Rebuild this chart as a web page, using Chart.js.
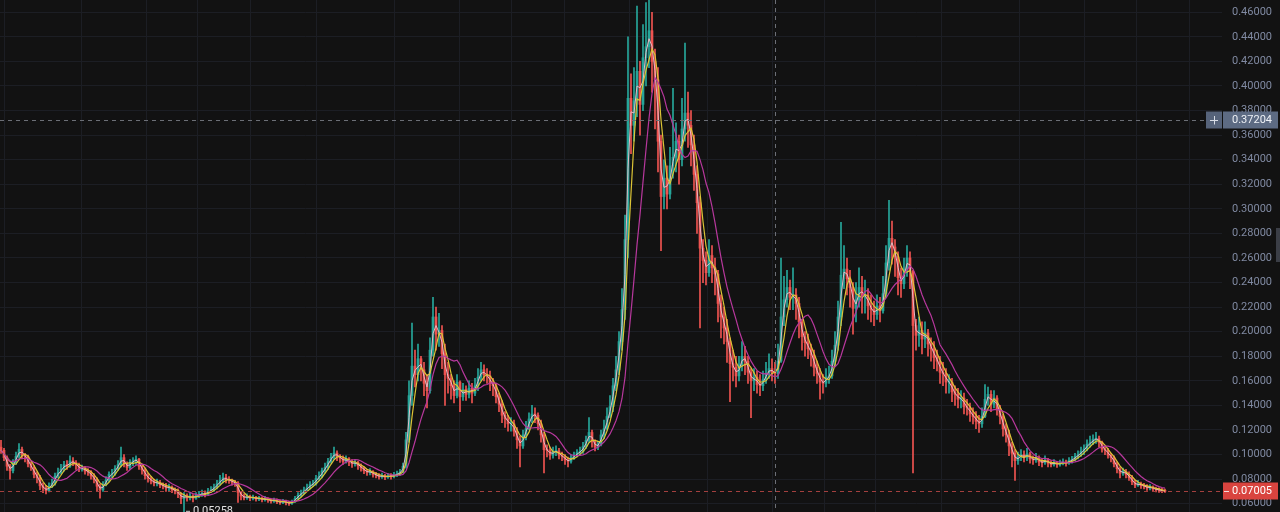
<!DOCTYPE html>
<html>
<head>
<meta charset="utf-8">
<script src="https://cdn.jsdelivr.net/npm/chart.js@4.4.1/dist/chart.umd.min.js"></script>
<style>
  html, body { margin: 0; padding: 0; background: #121212; overflow: hidden; }
  #wrap { width: 1280px; height: 512px; position: relative; }
</style>
</head>
<body>
<div id="wrap"><canvas id="priceChart"></canvas></div>
<script>
// candle data, one entry per bar (oldest first)
const firstOpen = 0.1060;
const closes = [
  0.1035,0.0975,0.0905,0.0868,0.0935,0.0985,0.1042,0.0998,0.0985,0.0925,
  0.0895,0.0838,0.0812,0.0745,0.0728,0.0705,0.0742,0.0768,0.0825,0.0852,
  0.0882,0.0918,0.0905,0.0948,0.0935,0.0915,0.0880,0.0892,0.0865,0.0858,
  0.0825,0.0798,0.0742,0.0712,0.0755,0.0792,0.0838,0.0842,0.0885,0.0918,
  0.0975,0.0928,0.0895,0.0935,0.0948,0.0962,0.0905,0.0875,0.0828,0.0805,
  0.0785,0.0768,0.0772,0.0752,0.0745,0.0728,0.0735,0.0712,0.0705,0.0682,
  0.0642,0.0665,0.0648,0.0662,0.0645,0.0668,0.0672,0.0685,0.0678,0.0702,
  0.0712,0.0735,0.0762,0.0788,0.0812,0.0795,0.0792,0.0775,0.0768,0.0692,
  0.0662,0.0648,0.0658,0.0645,0.0652,0.0638,0.0645,0.0632,0.0641,0.0628,
  0.0622,0.0628,0.0615,0.0612,0.0620,0.0608,0.0602,0.0615,0.0642,0.0668,
  0.0685,0.0712,0.0728,0.0755,0.0762,0.0805,0.0822,0.0868,0.0895,0.0942,
  0.0978,0.1012,0.0985,0.0972,0.0945,0.0965,0.0938,0.0925,0.0935,0.0908,
  0.0892,0.0868,0.0855,0.0862,0.0838,0.0832,0.0818,0.0829,0.0815,0.0828,
  0.0822,0.0835,0.0842,0.0858,0.0905,0.1120,0.1480,0.1720,0.1650,0.1780,
  0.1690,0.1580,0.1520,0.1850,0.2120,0.1980,0.2010,0.1820,0.1650,0.1620,
  0.1560,0.1480,0.1590,0.1470,0.1530,0.1490,0.1540,0.1500,0.1560,0.1630,
  0.1690,0.1650,0.1640,0.1580,0.1560,0.1470,0.1410,0.1320,0.1290,0.1250,
  0.1250,0.1190,0.1120,0.1070,0.1160,0.1210,0.1290,0.1330,0.1320,0.1250,
  0.1160,0.1040,0.1035,0.0995,0.1025,0.1030,0.0995,0.0985,0.0955,0.0945,
  0.0975,0.0990,0.1015,0.1025,0.1065,0.1115,0.1180,0.1105,0.1060,0.1085,
  0.1160,0.1210,0.1310,0.1390,0.1560,0.1690,0.1920,0.2180,0.2750,0.3900,
  0.3680,0.3880,0.4120,0.3850,0.4230,0.4320,0.4450,0.4200,0.4050,0.3550,
  0.3100,0.3250,0.3120,0.3350,0.3420,0.3550,0.3400,0.3650,0.3780,0.3680,
  0.3520,0.3280,0.3050,0.2680,0.2580,0.2480,0.2620,0.2520,0.2470,0.2230,
  0.2120,0.2030,0.1920,0.1740,0.1710,0.1640,0.1730,0.1800,0.1760,0.1670,
  0.1600,0.1630,0.1570,0.1560,0.1610,0.1660,0.1700,0.1670,0.1660,0.1760,
  0.2120,0.2260,0.2360,0.2280,0.2300,0.2230,0.2080,0.1960,0.1910,0.1860,
  0.1810,0.1710,0.1660,0.1590,0.1580,0.1630,0.1640,0.1760,0.1890,0.2120,
  0.2460,0.2510,0.2430,0.2360,0.2190,0.2260,0.2360,0.2290,0.2300,0.2210,
  0.2180,0.2140,0.2210,0.2170,0.2310,0.2560,0.2760,0.2690,0.2610,0.2440,
  0.2390,0.2510,0.2600,0.2490,0.2050,0.1970,0.2010,0.1940,0.1990,0.1900,
  0.1860,0.1790,0.1760,0.1670,0.1660,0.1590,0.1590,0.1510,0.1490,0.1450,
  0.1460,0.1390,0.1380,0.1330,0.1310,0.1270,0.1250,0.1310,0.1450,0.1490,
  0.1410,0.1460,0.1370,0.1310,0.1210,0.1160,0.1070,0.1010,0.0950,0.0980,
  0.1000,0.0975,0.1005,0.0965,0.0955,0.0975,0.0940,0.0935,0.0955,0.0930,
  0.0920,0.0935,0.0918,0.0932,0.0940,0.0928,0.0952,0.0958,0.0985,0.0998,
  0.1025,0.1045,0.1085,0.1095,0.1125,0.1130,0.1100,0.1045,0.1035,0.0995,
  0.0975,0.0925,0.0885,0.0848,0.0862,0.0838,0.0812,0.0778,0.0752,0.0762,
  0.0748,0.0742,0.0728,0.0736,0.0720,0.0716,0.0709,0.0704,0.07005
];
const highs = [
  0.1115,0.1050,0.0990,0.0920,0.0960,0.1020,0.1090,0.1060,0.1010,0.0995,
  0.0940,0.0910,0.0860,0.0830,0.0770,0.0750,0.0770,0.0800,0.0850,0.0890,
  0.0920,0.0945,0.0950,0.0990,0.0975,0.0950,0.0930,0.0915,0.0905,0.0885,
  0.0870,0.0845,0.0810,0.0760,0.0780,0.0820,0.0860,0.0880,0.0910,0.0950,
  0.1060,0.1000,0.0940,0.0960,0.0975,0.0990,0.0970,0.0920,0.0890,0.0850,
  0.0820,0.0800,0.0800,0.0790,0.0770,0.0765,0.0760,0.0745,0.0730,0.0720,
  0.0690,0.0690,0.0680,0.0685,0.0675,0.0690,0.0700,0.0710,0.0705,0.0725,
  0.0740,0.0760,0.0790,0.0830,0.0850,0.0840,0.0820,0.0800,0.0790,0.0780,
  0.0700,0.0680,0.0680,0.0670,0.0670,0.0660,0.0660,0.0655,0.0660,0.0650,
  0.0640,0.0645,0.0640,0.0630,0.0635,0.0630,0.0620,0.0630,0.0660,0.0690,
  0.0710,0.0735,0.0760,0.0780,0.0790,0.0830,0.0860,0.0890,0.0930,0.0970,
  0.1010,0.1060,0.1030,0.1000,0.0990,0.0990,0.0975,0.0960,0.0960,0.0945,
  0.0925,0.0900,0.0880,0.0885,0.0870,0.0855,0.0845,0.0850,0.0840,0.0845,
  0.0845,0.0855,0.0865,0.0880,0.0930,0.1180,0.1600,0.2070,0.1850,0.1900,
  0.1800,0.1750,0.1650,0.1950,0.2280,0.2200,0.2150,0.2050,0.1900,0.1750,
  0.1650,0.1600,0.1650,0.1600,0.1580,0.1560,0.1600,0.1580,0.1620,0.1700,
  0.1750,0.1730,0.1700,0.1680,0.1620,0.1580,0.1500,0.1440,0.1350,0.1320,
  0.1300,0.1280,0.1220,0.1150,0.1200,0.1270,0.1340,0.1400,0.1380,0.1340,
  0.1280,0.1180,0.1080,0.1060,0.1060,0.1070,0.1050,0.1020,0.1000,0.0980,
  0.1000,0.1020,0.1040,0.1060,0.1100,0.1150,0.1300,0.1200,0.1120,0.1110,
  0.1200,0.1280,0.1380,0.1480,0.1620,0.1800,0.2000,0.2350,0.2950,0.4400,
  0.4100,0.4150,0.4650,0.4200,0.4500,0.4680,0.4700,0.4600,0.4300,0.4150,
  0.3600,0.3400,0.3350,0.3500,0.3980,0.3700,0.3600,0.3900,0.4350,0.3950,
  0.3800,0.3600,0.3350,0.3100,0.2750,0.2650,0.2750,0.2700,0.2600,0.2500,
  0.2300,0.2200,0.2100,0.1950,0.1850,0.1800,0.1800,0.1920,0.1880,0.1800,
  0.1700,0.1700,0.1680,0.1650,0.1680,0.1750,0.1820,0.1780,0.1750,0.1900,
  0.2600,0.2450,0.2500,0.2420,0.2520,0.2350,0.2280,0.2100,0.2000,0.1980,
  0.1900,0.1850,0.1760,0.1700,0.1650,0.1700,0.1720,0.1850,0.2000,0.2250,
  0.2890,0.2700,0.2600,0.2500,0.2400,0.2400,0.2520,0.2450,0.2420,0.2350,
  0.2300,0.2250,0.2300,0.2280,0.2450,0.2700,0.3070,0.2900,0.2750,0.2650,
  0.2520,0.2600,0.2700,0.2650,0.2500,0.2100,0.2120,0.2080,0.2080,0.2020,
  0.1950,0.1920,0.1850,0.1800,0.1750,0.1700,0.1650,0.1620,0.1560,0.1540,
  0.1520,0.1500,0.1450,0.1420,0.1380,0.1350,0.1320,0.1380,0.1570,0.1550,
  0.1520,0.1520,0.1480,0.1400,0.1330,0.1250,0.1200,0.1100,0.1040,0.1020,
  0.1040,0.1030,0.1050,0.1020,0.0990,0.1010,0.0990,0.0970,0.0990,0.0970,
  0.0950,0.0960,0.0945,0.0955,0.0965,0.0955,0.0975,0.0985,0.1010,0.1030,
  0.1060,0.1080,0.1120,0.1150,0.1160,0.1180,0.1150,0.1110,0.1070,0.1050,
  0.1010,0.0990,0.0940,0.0900,0.0890,0.0880,0.0860,0.0830,0.0790,0.0790,
  0.0775,0.0765,0.0755,0.0755,0.0745,0.0735,0.0730,0.0725,0.0718
];
const lows = [
  0.1010,0.0950,0.0870,0.0800,0.0850,0.0920,0.0970,0.0965,0.0940,0.0900,
  0.0870,0.0810,0.0770,0.0715,0.0690,0.0680,0.0695,0.0730,0.0750,0.0810,
  0.0840,0.0865,0.0880,0.0895,0.0910,0.0880,0.0860,0.0865,0.0840,0.0830,
  0.0800,0.0770,0.0700,0.0645,0.0700,0.0745,0.0780,0.0810,0.0830,0.0870,
  0.0900,0.0900,0.0870,0.0880,0.0910,0.0920,0.0880,0.0840,0.0800,0.0775,
  0.0760,0.0745,0.0745,0.0730,0.0720,0.0700,0.0705,0.0690,0.0680,0.0650,
  0.0600,0.05258,0.0620,0.0630,0.0615,0.0635,0.0650,0.0660,0.0655,0.0670,
  0.0690,0.0700,0.0720,0.0750,0.0770,0.0770,0.0765,0.0750,0.0740,0.0610,
  0.0630,0.0630,0.0635,0.0625,0.0630,0.0620,0.0625,0.0615,0.0620,0.0610,
  0.0605,0.0610,0.0600,0.0595,0.0600,0.0590,0.0585,0.0595,0.0610,0.0635,
  0.0655,0.0680,0.0700,0.0720,0.0740,0.0750,0.0790,0.0810,0.0850,0.0880,
  0.0930,0.0960,0.0950,0.0935,0.0920,0.0930,0.0910,0.0895,0.0905,0.0880,
  0.0865,0.0845,0.0830,0.0835,0.0815,0.0810,0.0800,0.0805,0.0795,0.0805,
  0.0800,0.0810,0.0820,0.0830,0.0850,0.0890,0.1100,0.1400,0.1550,0.1600,
  0.1600,0.1480,0.1380,0.1500,0.1800,0.1850,0.1880,0.1700,0.1400,0.1500,
  0.1450,0.1420,0.1460,0.1350,0.1440,0.1440,0.1460,0.1420,0.1480,0.1520,
  0.1600,0.1600,0.1580,0.1520,0.1480,0.1420,0.1350,0.1260,0.1220,0.1190,
  0.1190,0.1150,0.1050,0.0900,0.1050,0.1120,0.1200,0.1260,0.1260,0.1200,
  0.1100,0.0850,0.0980,0.0960,0.0970,0.0990,0.0965,0.0950,0.0920,0.0900,
  0.0930,0.0960,0.0980,0.0995,0.1010,0.1050,0.1100,0.1060,0.1030,0.1040,
  0.1070,0.1130,0.1200,0.1300,0.1350,0.1520,0.1650,0.1850,0.2100,0.2600,
  0.3450,0.3550,0.3750,0.3600,0.3800,0.4000,0.4150,0.3950,0.3650,0.3300,
  0.2660,0.3000,0.3000,0.3080,0.3250,0.3300,0.3200,0.3350,0.3550,0.3500,
  0.3350,0.3150,0.2800,0.2030,0.2400,0.2380,0.2450,0.2400,0.2300,0.2080,
  0.1950,0.1900,0.1750,0.1430,0.1600,0.1550,0.1600,0.1680,0.1650,0.1580,
  0.1300,0.1520,0.1500,0.1480,0.1520,0.1580,0.1620,0.1600,0.1580,0.1620,
  0.1750,0.2050,0.2200,0.2180,0.2180,0.2100,0.1950,0.1850,0.1800,0.1780,
  0.1720,0.1640,0.1580,0.1450,0.1500,0.1550,0.1580,0.1620,0.1720,0.1850,
  0.2050,0.2350,0.2300,0.2200,0.1980,0.2080,0.2200,0.2150,0.2150,0.2100,
  0.2080,0.2050,0.2100,0.2080,0.2150,0.2280,0.2500,0.2550,0.2450,0.2300,
  0.2280,0.2350,0.2450,0.2350,0.0850,0.1850,0.1880,0.1820,0.1870,0.1800,
  0.1760,0.1700,0.1680,0.1580,0.1560,0.1500,0.1500,0.1430,0.1400,0.1380,
  0.1380,0.1330,0.1320,0.1270,0.1250,0.1210,0.1180,0.1220,0.1300,0.1400,
  0.1350,0.1380,0.1320,0.1250,0.1150,0.1100,0.0990,0.0900,0.0790,0.0920,
  0.0950,0.0940,0.0950,0.0930,0.0920,0.0935,0.0910,0.0900,0.0920,0.0900,
  0.0900,0.0905,0.0895,0.0905,0.0915,0.0905,0.0920,0.0930,0.0950,0.0965,
  0.0985,0.1000,0.1030,0.1060,0.1080,0.1090,0.1060,0.1020,0.1000,0.0970,
  0.0940,0.0900,0.0850,0.0810,0.0830,0.0810,0.0790,0.0755,0.0730,0.0740,
  0.0725,0.0720,0.0708,0.0712,0.0700,0.0696,0.0692,0.0690,0.0692
];

// moving average periods (in bars)
const maFast = 2;
const maMid = 4;
const maSlow = 10;

// axis ticks
const priceTicks = [0.06,0.08,0.10,0.12,0.14,0.16,0.18,0.20,0.22,0.24,0.26,
                    0.28,0.30,0.32,0.34,0.36,0.38,0.40,0.42,0.44,0.46];
const timeTicks = [14, 39.83, 57, 74.33, 92.17, 118, 144.2, 161.33, 179.17, 196.5,
                   222.67, 248.53, 265.67, 283, 300.33, 326.83, 352.5, 370, 387.33, 404.67];
const priceMin = 0.05324;
const priceMax = 0.4700;

// crosshair / markers
const crosshairIndex = 258;
const crosshairPrice = 0.37204;
const lastPrice = closes[closes.length - 1];

const UP = '#26a69a';
const DOWN = '#ef5350';

const opens = closes.map((c, i) => i === 0 ? firstOpen : closes[i - 1]);
const colors = closes.map((c, i) => c >= opens[i] ? UP : DOWN);

function sma(values, n) {
    return values.map((v, i) => {
        const from = Math.max(0, i - n + 1);
        let sum = 0;
        for (let k = from; k <= i; k++) sum += values[k];
        return { x: i, y: sum / (i - from + 1) };
    });
}

const wickData = closes.map((c, i) => ({
    x: i,
    y: [Math.min(lows[i], opens[i], c), Math.max(highs[i], opens[i], c)]
}));
const bodyData = closes.map((c, i) => ({ x: i, y: [opens[i], c] }));

let lowIndex = 0;
lows.forEach((v, i) => { if (v < lows[lowIndex]) lowIndex = i; });

const overlay = {
    id: 'overlay',
    afterDraw(chart) {
        const { ctx, chartArea: a, scales: { x, y } } = chart;
        const W = chart.width;
        ctx.save();
        ctx.lineWidth = 1;

        // crosshair
        const cy = Math.round(y.getPixelForValue(crosshairPrice)) + 0.5;
        const cx = Math.round(x.getPixelForValue(crosshairIndex)) + 0.5;
        ctx.strokeStyle = '#6c6f76';
        ctx.setLineDash([4, 4]);
        ctx.beginPath(); ctx.moveTo(a.left, cy); ctx.lineTo(a.right - 16, cy); ctx.stroke();
        ctx.beginPath(); ctx.moveTo(cx, a.top); ctx.lineTo(cx, a.bottom); ctx.stroke();

        // last price line
        const ly = Math.round(y.getPixelForValue(lastPrice)) + 0.5;
        ctx.strokeStyle = '#a3403e';
        ctx.beginPath(); ctx.moveTo(a.left, ly); ctx.lineTo(a.right, ly); ctx.stroke();
        ctx.setLineDash([]);

        ctx.font = '11px Roboto, "DejaVu Sans", sans-serif';
        ctx.textBaseline = 'middle';
        ctx.textAlign = 'left';

        // crosshair price box + plus button
        ctx.fillStyle = '#56637a';
        ctx.fillRect(a.right - 16, cy - 9, 16, 17);
        ctx.fillStyle = '#5d6b83';
        ctx.fillRect(a.right + 1, cy - 9, W - a.right - 3, 17);
        ctx.strokeStyle = '#d8dde6';
        ctx.beginPath();
        ctx.moveTo(a.right - 12, cy); ctx.lineTo(a.right - 4, cy);
        ctx.moveTo(a.right - 8 + 0.5, cy - 4.5); ctx.lineTo(a.right - 8 + 0.5, cy + 4);
        ctx.stroke();
        ctx.fillStyle = '#eef1f6';
        ctx.fillText(crosshairPrice.toFixed(5), a.right + 10, cy);

        // last price box
        ctx.fillStyle = '#d9443f';
        ctx.fillRect(a.right + 1, ly - 9, W - a.right - 3, 17);
        ctx.strokeStyle = '#f4dcdc';
        ctx.beginPath(); ctx.moveTo(a.right + 2, ly); ctx.lineTo(a.right + 7, ly); ctx.stroke();
        ctx.fillStyle = '#ffffff';
        ctx.fillText(lastPrice.toFixed(5), a.right + 10, ly);

        // lowest price marker
        const lx = x.getPixelForValue(lowIndex);
        const lpy = y.getPixelForValue(lows[lowIndex]) - 2;
        ctx.strokeStyle = '#d0d0d0';
        ctx.beginPath(); ctx.moveTo(lx + 2, lpy + 0.5); ctx.lineTo(lx + 6, lpy + 0.5); ctx.stroke();
        ctx.fillStyle = '#e2e2e2';
        ctx.fillText(lows[lowIndex].toFixed(5), lx + 9, lpy);

        // side tab on right edge
        ctx.fillStyle = '#3b3e46';
        ctx.fillRect(W - 4, 228, 4, 34);
        ctx.restore();
    }
};

const canvas = document.getElementById('priceChart');
new Chart(canvas, {
    type: 'bar',
    data: {
        datasets: [
            { type: 'line', data: sma(closes, maFast), borderColor: '#e3b9c3', borderWidth: 1,
              pointRadius: 0, tension: 0, order: 2 },
            { type: 'line', data: sma(closes, maMid), borderColor: '#dcc436', borderWidth: 1.2,
              pointRadius: 0, tension: 0, order: 1 },
            { type: 'line', data: sma(closes, maSlow), borderColor: '#b8389d', borderWidth: 1.2,
              pointRadius: 0, tension: 0, order: 0 },
            { data: bodyData, backgroundColor: colors, barThickness: 2, minBarLength: 1,
              grouped: false, borderWidth: 0, order: 5 },
            { data: wickData, backgroundColor: colors, barThickness: 1,
              grouped: false, borderWidth: 0, order: 6 }
        ]
    },
    options: {
        responsive: true,
        maintainAspectRatio: false,
        devicePixelRatio: 1,
        animation: false,
        events: [],
        layout: { padding: 0 },
        plugins: { legend: { display: false }, tooltip: { enabled: false } },
        scales: {
            x: {
                type: 'linear',
                min: -1 / 3,
                max: -1 / 3 + 1222 / 3,
                offset: false,
                grid: { color: '#1c1e24', drawTicks: false },
                border: { display: false },
                ticks: { display: false },
                afterBuildTicks: function (scale) {
                    scale.ticks = timeTicks.map(v => ({ value: v }));
                },
                afterFit: function (scale) {
                    scale.height = 0;
                    scale.paddingLeft = 0; scale.paddingRight = 0;
                }
            },
            y: {
                position: 'right',
                min: priceMin,
                max: priceMax,
                grid: { color: '#1c1e24', drawTicks: false },
                border: { display: false },
                ticks: {
                    autoSkip: false,
                    padding: 10,
                    color: '#808aa2',
                    font: { family: 'Roboto', size: 11 },
                    callback: v => Number(v).toFixed(5)
                },
                afterBuildTicks: function (scale) {
                    scale.ticks = priceTicks.map(v => ({ value: v }));
                },
                afterFit: function (scale) {
                    scale.width = 58;
                    scale.paddingTop = 0; scale.paddingBottom = 0;
                }
            }
        }
    },
    plugins: [overlay]
});
</script>
</body>
</html>
